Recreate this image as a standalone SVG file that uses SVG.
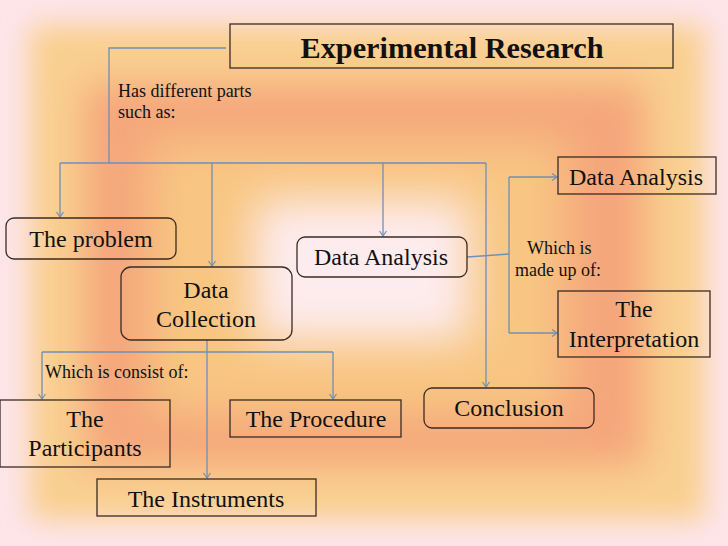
<svg xmlns="http://www.w3.org/2000/svg" width="728" height="546" viewBox="0 0 728 546">
<defs>
<filter id="b1" x="-20%" y="-20%" width="140%" height="140%"><feGaussianBlur stdDeviation="14"/></filter>
<filter id="b2" x="-30%" y="-30%" width="160%" height="160%"><feGaussianBlur stdDeviation="18"/></filter>
<filter id="b3" x="-30%" y="-30%" width="160%" height="160%"><feGaussianBlur stdDeviation="22"/></filter>
<marker id="arr" markerUnits="userSpaceOnUse" markerWidth="10" markerHeight="10" refX="6" refY="4" orient="auto">
<path d="M1,0.5 L6,4 L1,7.5" fill="none" stroke="#6f8fb8" stroke-width="1.2"/>
</marker>
<style>
.box{fill:none;stroke:#3b2b22;stroke-width:1.3}
.t{font-family:"Liberation Serif","Times New Roman",serif;font-size:24px;fill:#111;text-anchor:middle}
.lbl{font-family:"Liberation Serif","Times New Roman",serif;font-size:18px;fill:#111}
.title{font-family:"Liberation Serif","Times New Roman",serif;font-size:29px;font-weight:bold;fill:#111;text-anchor:middle}
.c{fill:none;stroke:#6f8fb8;stroke-width:1.3}
</style>
</defs>
<g id="background">
<rect x="0" y="0" width="728" height="546" fill="#fde5ea"/>
<rect x="30" y="25" width="675" height="495" fill="#f9cf8f" filter="url(#b1)"/>
<rect x="85" y="85" width="560" height="380" fill="#f5a67c" filter="url(#b2)"/>
<rect x="150" y="140" width="415" height="275" fill="#f8c682" filter="url(#b3)"/>
<rect x="255" y="200" width="215" height="140" fill="#fdecef" filter="url(#b3)"/>
</g>
<g id="connectors">
<path class="c" d="M226,48 H109 V163"/>
<path class="c" d="M60,163 H486"/>
<path class="c" d="M60,163 V217" marker-end="url(#arr)"/>
<path class="c" d="M212,163 V266" marker-end="url(#arr)"/>
<path class="c" d="M383,163 V236" marker-end="url(#arr)"/>
<path class="c" d="M486,163 V387" marker-end="url(#arr)"/>
<path class="c" d="M467,257 L509,254"/>
<path class="c" d="M509,177 V333"/>
<path class="c" d="M509,177 H557" marker-end="url(#arr)"/>
<path class="c" d="M509,333 H557" marker-end="url(#arr)"/>
<path class="c" d="M207,340 V478" marker-end="url(#arr)"/>
<path class="c" d="M42,352 H333"/>
<path class="c" d="M42,352 V399" marker-end="url(#arr)"/>
<path class="c" d="M333,352 V399" marker-end="url(#arr)"/>
</g>
<g id="labels">
<text class="lbl" x="118" y="97">Has different parts</text>
<text class="lbl" x="118" y="118">such as:</text>
<text class="lbl" x="527" y="254">Which is</text>
<text class="lbl" x="515" y="276">made up of:</text>
<text class="lbl" x="45" y="378">Which is consist of:</text>
</g>
<g id="experimental-research">
<rect class="box" x="230" y="24" width="443" height="44"/>
<text class="title" x="452" y="58" textLength="303" lengthAdjust="spacingAndGlyphs">Experimental Research</text>
</g>
<g id="the-problem">
<rect class="box" x="6" y="218" width="170" height="41" rx="8"/>
<text class="t" x="91" y="247">The problem</text>
</g>
<g id="data-collection">
<rect class="box" x="121" y="267" width="171" height="73" rx="10"/>
<text class="t" x="206" y="298">Data</text>
<text class="t" x="206" y="327">Collection</text>
</g>
<g id="data-analysis-main">
<rect class="box" x="297" y="237" width="170" height="40" rx="8"/>
<text class="t" x="381" y="265">Data Analysis</text>
</g>
<g id="data-analysis-sub">
<rect class="box" x="558" y="157" width="158" height="37"/>
<text class="t" x="636" y="185">Data Analysis</text>
</g>
<g id="the-interpretation">
<rect class="box" x="558" y="291" width="152" height="66"/>
<text class="t" x="634" y="317">The</text>
<text class="t" x="634" y="347">Interpretation</text>
</g>
<g id="conclusion">
<rect class="box" x="424" y="388" width="170" height="40" rx="8"/>
<text class="t" x="509" y="416">Conclusion</text>
</g>
<g id="the-participants">
<rect class="box" x="0" y="400" width="170" height="67"/>
<text class="t" x="85" y="427">The</text>
<text class="t" x="85" y="456">Participants</text>
</g>
<g id="the-procedure">
<rect class="box" x="230" y="400" width="171" height="37"/>
<text class="t" x="316" y="427">The Procedure</text>
</g>
<g id="the-instruments">
<rect class="box" x="97" y="479" width="219" height="37"/>
<text class="t" x="206" y="507">The Instruments</text>
</g>
</svg>
